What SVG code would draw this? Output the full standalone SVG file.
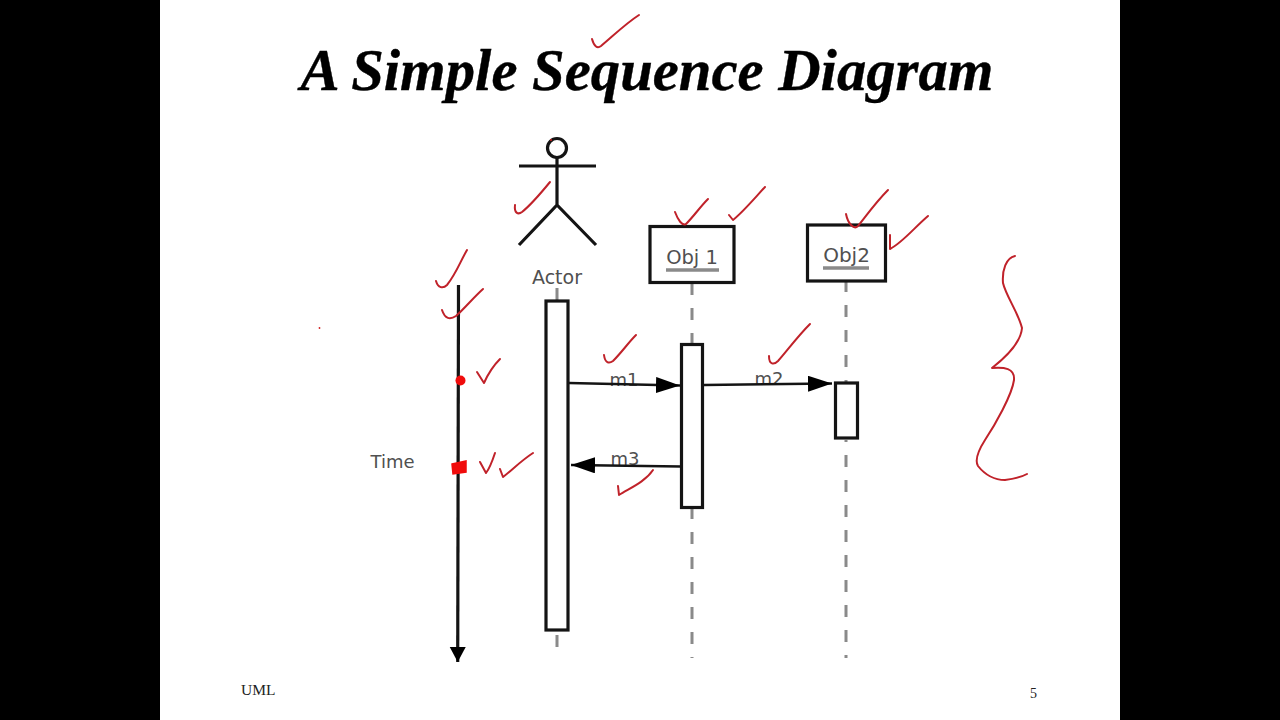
<svg xmlns="http://www.w3.org/2000/svg" width="1280" height="720" viewBox="0 0 1280 720">
<style>
.ink{fill:none;stroke:#141414;stroke-width:3.2}
.box{fill:#fff;stroke:#141414;stroke-width:3.2}
.life{fill:none;stroke:#8a8a8a;stroke-width:3;stroke-dasharray:12 13}
.msg{fill:none;stroke:#141414;stroke-width:2.6}
.lbl{font-family:"DejaVu Sans",sans-serif;font-size:18px;fill:#505050;text-anchor:middle}
.chk{fill:none;stroke:#c0222a;stroke-width:2;stroke-linecap:round;stroke-linejoin:round}
.ul{stroke:#8a8a8a;stroke-width:3.4}
.foot{font-family:"Liberation Serif",serif;fill:#222}
</style>
<defs>
<marker id="ah" markerUnits="userSpaceOnUse" markerWidth="26" markerHeight="18" refX="24" refY="8" orient="auto"><path d="M0 0L24 8L0 16Z" fill="#000"/></marker>
<marker id="ahs" markerUnits="userSpaceOnUse" markerWidth="17" markerHeight="18" refX="15" refY="8" orient="auto"><path d="M0 0L15 8L0 16Z" fill="#000"/></marker>
</defs>
<rect width="1280" height="720" fill="#000"/>
<rect x="160" width="960" height="720" fill="#fff"/>
<text id="title" x="647" y="90" font-family="'Liberation Serif',serif" font-size="58.700" font-weight="bold" font-style="italic" text-anchor="middle" fill="#000" stroke="#000" stroke-width="0.400">A Simple Sequence Diagram</text>
<text x="241" y="695" class="foot" font-size="15.500">UML</text>
<text x="1030" y="698" class="foot" font-size="14">5</text>

<g id="lifelines">
<path class="life" style="stroke-dasharray:none" d="M557 288V301M557 635V647"/>
<path class="life" d="M692 283V344"/>
<path class="life" d="M692 507V658"/>
<path class="life" d="M846 280V383"/>
<path class="life" d="M846 440V658" stroke-dashoffset="10"/>
</g>

<g id="actor">
<circle class="ink" cx="557" cy="148" r="9.500"/>
<path class="ink" d="M519 166H596M557 158V205M519 245L557 205L596 245"/>
<text class="lbl" style="font-size:19px" x="557" y="284">Actor</text>
</g>
<g id="obj1">
<rect class="box" x="650" y="226.500" width="84" height="56"/>
<text class="lbl" style="font-size:19.500px" x="692" y="264">Obj 1</text>
<path class="ul" d="M666 270H719"/>
</g>
<g id="obj2">
<rect class="box" x="807.500" y="225" width="78" height="56"/>
<text class="lbl" style="font-size:20px" x="846.500" y="262">Obj2</text>
<path class="ul" d="M823 268H869"/>
</g>
<g id="actor-activation"><rect class="box" x="546" y="301" width="22" height="329"/></g>
<g id="obj1-activation"><rect class="box" x="681.500" y="344.500" width="21" height="163"/></g>
<g id="obj2-activation"><rect class="box" x="835.500" y="383" width="22" height="55"/></g>

<g id="time-label"><text class="lbl" x="392.500" y="468">Time</text></g>
<text class="lbl" x="624" y="386">m1</text>
<text class="lbl" x="769" y="385">m2</text>
<text class="lbl" x="625" y="465">m3</text>
<g id="connectors">
<path class="ink" d="M458.500 285L457.700 662" marker-end="url(#ahs)"/>
<path class="msg" d="M569 383L680 385.500" marker-end="url(#ah)"/>
<path class="msg" d="M704 385L832 383.500" marker-end="url(#ah)"/>
<path class="msg" d="M681 466.500L571 465" marker-end="url(#ah)"/>
</g>

<g id="annotations">
<path class="chk" d="M592 39C594 46 597 49 601 46C612 37 625 24 639 15"/>
<path class="chk" d="M515 205C514 213 518 215 522 212C532 204 541 193 550 182"/>
<path class="chk" d="M675 212C678 220 682 226 686 224C694 216 700 207 708 199"/>
<path class="chk" d="M729 215L733 220C743 212 753 200 765 187"/>
<path class="chk" d="M846 214C848 224 854 230 858 226C866 216 876 202 888 190"/>
<path class="chk" d="M890 235V249C902 243 914 228 928 216"/>
<path class="chk" d="M436 281C438 288 443 289 447 285C456 274 460 262 467 250"/>
<path class="chk" d="M442 310C445 319 450 320 456 316C465 308 473 298 483 289"/>
<path class="chk" d="M604 355C605 363 609 364 613 361C622 352 628 343 636 335"/>
<path class="chk" d="M769 356C769 365 774 365 778 361C787 351 797 337 810 324"/>
<path class="chk" d="M477 372L484 383C488 374 492 367 500 359"/>
<path class="chk" d="M480 462L486 473C490 468 493 459 495 453"/>
<path class="chk" d="M500 469L503 477C512 470 522 460 533 453"/>
<path class="chk" d="M618 486L619 495C630 488 645 482 653 470"/>
<path class="chk" d="M1015 256C1006 258 1002 270 1003 283C1006 296 1018 312 1022 328C1021 342 1006 357 992 368C1004 367 1015 368 1014 380C1012 395 995 425 985 440C978 451 975 461 978 466C986 476 994 480 1005 480C1013 479 1020 478 1027 474"/>
<circle cx="460.500" cy="380.500" r="5" fill="#f00c0c"/>
<path d="M452 464L466 461L466 472L453 474Z" fill="#f00c0c" stroke="#f00c0c" stroke-width="1.500"/>
<circle cx="319.500" cy="328" r="0.900" fill="#d02020"/>
<circle cx="551" cy="140" r="1" fill="#d02020"/>
</g>
</svg>
